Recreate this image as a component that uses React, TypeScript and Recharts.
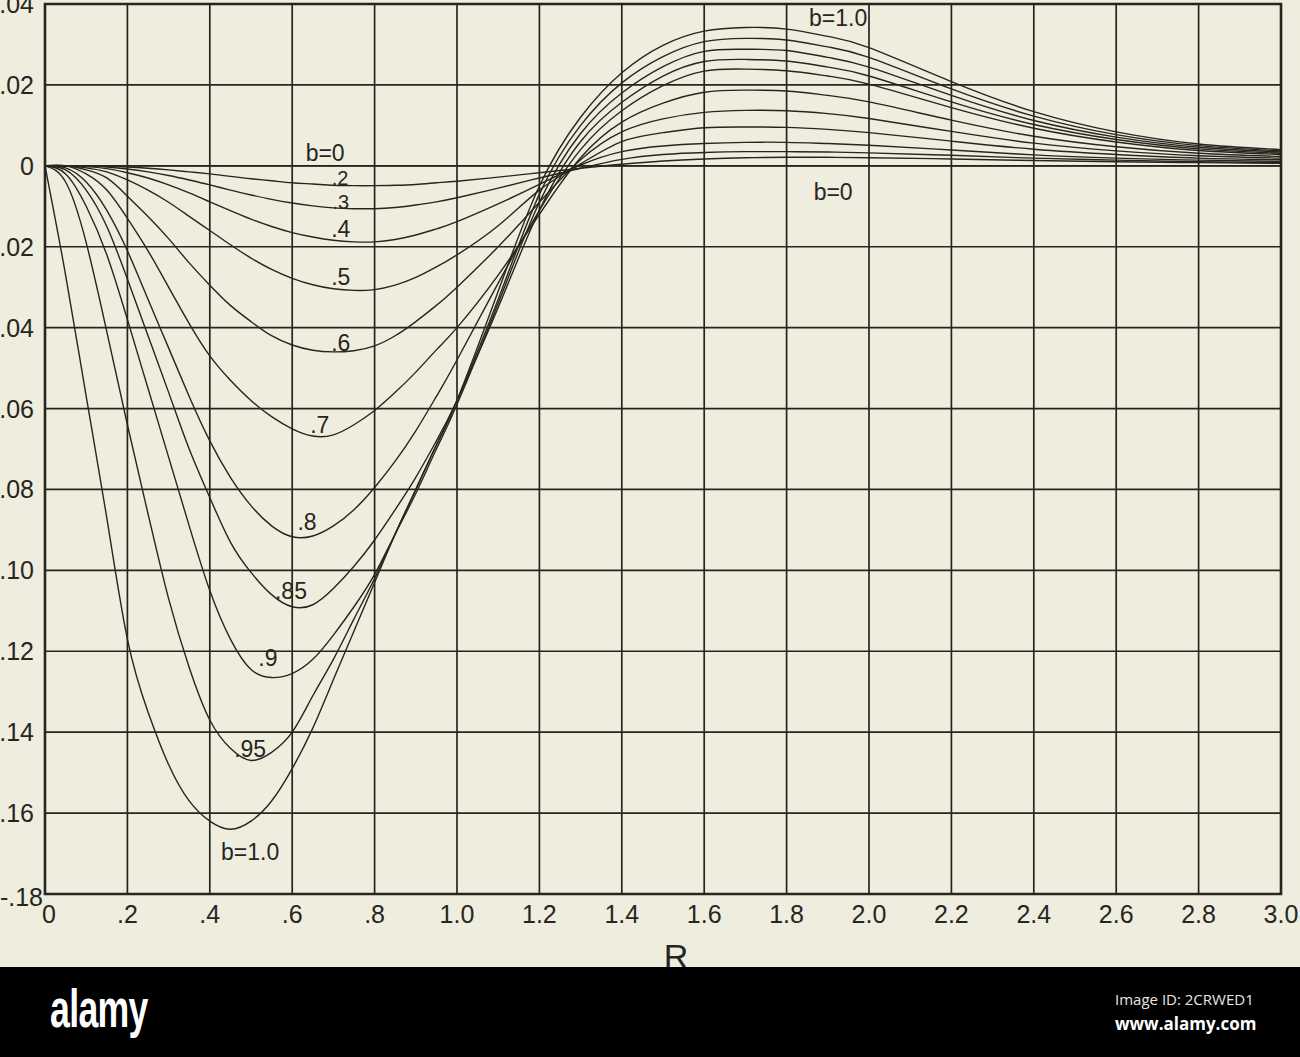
import React from "react";
import { LineChart, Line, XAxis, YAxis, CartesianGrid, ReferenceArea, ReferenceDot } from "recharts";

const rValues = [
  0, 0.05, 0.1, 0.15, 0.2, 0.25, 0.3, 0.35, 0.4, 0.45, 0.5, 0.55, 0.6, 0.65, 0.7, 0.75, 0.8, 0.85, 0.9, 0.95, 1.0,
  1.1, 1.2, 1.3, 1.4, 1.5, 1.6, 1.7, 1.8, 1.9, 2.0, 2.2, 2.4, 2.6, 2.8, 3.0,
];

const b100 = [0, -0.027, -0.057, -0.087, -0.117, -0.135, -0.148, -0.157, -0.162, -0.164, -0.162, -0.157, -0.149, -0.139, -0.127, -0.115, -0.103, -0.091, -0.08, -0.069, -0.058, -0.031, -0.005, 0.012, 0.023, 0.0298, 0.0333, 0.0342, 0.0338, 0.032, 0.0292, 0.0208, 0.0134, 0.0084, 0.0054, 0.004];
const b095 = [0, -0.004, -0.019, -0.041, -0.064, -0.086, -0.107, -0.124, -0.137, -0.144, -0.147, -0.145, -0.14, -0.131, -0.122, -0.112, -0.102, -0.091, -0.08, -0.069, -0.058, -0.033, -0.007, 0.01, 0.0205, 0.027, 0.0307, 0.0315, 0.0311, 0.0294, 0.0268, 0.019, 0.0123, 0.0077, 0.005, 0.0037];
const b090 = [0, -0.002, -0.01, -0.022, -0.038, -0.055, -0.072, -0.089, -0.105, -0.117, -0.1245, -0.1265, -0.1255, -0.122, -0.116, -0.109, -0.101, -0.091, -0.081, -0.07, -0.059, -0.034, -0.009, 0.008, 0.018, 0.0245, 0.0283, 0.0288, 0.0285, 0.0268, 0.0244, 0.0174, 0.0112, 0.0071, 0.0046, 0.0034];
const b085 = [0, -0.001, -0.006, -0.015, -0.028, -0.042, -0.056, -0.07, -0.082, -0.093, -0.1005, -0.106, -0.109, -0.1085, -0.1045, -0.099, -0.0925, -0.085, -0.077, -0.068, -0.058, -0.035, -0.011, 0.006, 0.0157, 0.0222, 0.0258, 0.0263, 0.0259, 0.0244, 0.0222, 0.0158, 0.0102, 0.0065, 0.0042, 0.0031];
const b080 = [0, -0.0005, -0.004, -0.011, -0.021, -0.033, -0.045, -0.057, -0.068, -0.077, -0.084, -0.089, -0.0917, -0.0915, -0.089, -0.085, -0.0795, -0.073, -0.0655, -0.057, -0.048, -0.029, -0.011, 0.004, 0.0136, 0.0198, 0.0234, 0.0239, 0.0235, 0.0222, 0.0202, 0.0144, 0.0093, 0.0059, 0.0038, 0.0028];
const b070 = [0, 0, -0.002, -0.006, -0.013, -0.021, -0.03, -0.039, -0.047, -0.053, -0.058, -0.062, -0.065, -0.0668, -0.0665, -0.064, -0.0605, -0.056, -0.051, -0.0455, -0.04, -0.027, -0.012, 0.002, 0.0108, 0.0155, 0.0182, 0.0187, 0.0185, 0.0174, 0.0158, 0.0113, 0.0073, 0.0047, 0.0031, 0.0023];
const b060 = [0, 0, -0.001, -0.003, -0.0075, -0.0125, -0.018, -0.024, -0.0295, -0.0345, -0.0385, -0.042, -0.0443, -0.0456, -0.046, -0.0457, -0.0445, -0.042, -0.0385, -0.0345, -0.03, -0.02, -0.009, 0.0015, 0.0084, 0.0116, 0.0132, 0.0137, 0.0136, 0.0129, 0.0117, 0.0085, 0.0056, 0.0037, 0.0025, 0.0019];
const b050 = [0, 0, -0.0005, -0.0015, -0.0035, -0.006, -0.009, -0.0125, -0.016, -0.0195, -0.0228, -0.0256, -0.0278, -0.0294, -0.0304, -0.0308, -0.0306, -0.0295, -0.0276, -0.025, -0.022, -0.0148, -0.006, 0.0005, 0.006, 0.0082, 0.0094, 0.0096, 0.0095, 0.009, 0.0082, 0.0061, 0.0041, 0.0028, 0.0019, 0.0015];
const b040 = [0, 0, -0.0002, -0.0007, -0.0017, -0.003, -0.0047, -0.0067, -0.0089, -0.0111, -0.0132, -0.015, -0.0165, -0.0176, -0.0184, -0.0188, -0.0188, -0.0182, -0.0171, -0.0156, -0.0138, -0.0094, -0.0046, 0.0002, 0.0035, 0.0049, 0.0055, 0.0058, 0.0058, 0.0055, 0.0051, 0.0039, 0.0027, 0.0019, 0.0014, 0.0011];
const b030 = [0, 0, 0, -0.0003, -0.0008, -0.0015, -0.0024, -0.0035, -0.0047, -0.006, -0.0072, -0.0083, -0.0092, -0.0099, -0.0104, -0.0106, -0.0106, -0.0103, -0.0097, -0.0089, -0.0079, -0.0055, -0.003, -0.0006, 0.0016, 0.0028, 0.0033, 0.0035, 0.0035, 0.0034, 0.0032, 0.0026, 0.0019, 0.0014, 0.001, 0.0008];
const b020 = [0, 0, 0, -0.0001, -0.0003, -0.0006, -0.001, -0.0015, -0.002, -0.0026, -0.0032, -0.0037, -0.0042, -0.0045, -0.0048, -0.0049, -0.0049, -0.0048, -0.0046, -0.0042, -0.0038, -0.0028, -0.0017, -0.0006, 0.0004, 0.0012, 0.0017, 0.002, 0.0021, 0.0021, 0.002, 0.0017, 0.0013, 0.001, 0.0008, 0.0006];
const b000 = [0, 0, 0, 0, 0, 0, 0, 0, 0, 0, 0, 0, 0, 0, 0, 0, 0, 0, 0, 0, 0, 0, 0, 0, 0, 0, 0, 0, 0, 0, 0, 0, 0, 0, 0, 0];

const seriesList = [
  { key: "b100", values: b100 },
  { key: "b095", values: b095 },
  { key: "b090", values: b090 },
  { key: "b085", values: b085 },
  { key: "b080", values: b080 },
  { key: "b070", values: b070 },
  { key: "b060", values: b060 },
  { key: "b050", values: b050 },
  { key: "b040", values: b040 },
  { key: "b030", values: b030 },
  { key: "b020", values: b020 },
  { key: "b000", values: b000 },
];

const xTicks = [0, 0.2, 0.4, 0.6, 0.8, 1.0, 1.2, 1.4, 1.6, 1.8, 2.0, 2.2, 2.4, 2.6, 2.8, 3.0];
const xTickLabels = ["0", ".2", ".4", ".6", ".8", "1.0", "1.2", "1.4", "1.6", "1.8", "2.0", "2.2", "2.4", "2.6", "2.8", "3.0"];
const yTicks = [0.04, 0.02, 0, -0.02, -0.04, -0.06, -0.08, -0.1, -0.12, -0.14, -0.16, -0.18];
const yTickLabels = [".04", ".02", "0", "-.02", "-.04", "-.06", "-.08", "-.10", "-.12", "-.14", "-.16", "-.18"];

// curve labels, placed at (R, value)
const curveLabels = [
  { text: "b=0", r: 0.68, v: 0.0032, size: 23 },
  { text: ".2", r: 0.716, v: -0.003, size: 20 },
  { text: ".3", r: 0.718, v: -0.009, size: 20 },
  { text: ".4", r: 0.718, v: -0.0156, size: 23 },
  { text: ".5", r: 0.718, v: -0.0274, size: 23 },
  { text: ".6", r: 0.718, v: -0.0437, size: 23 },
  { text: ".7", r: 0.667, v: -0.064, size: 23 },
  { text: ".8", r: 0.636, v: -0.0881, size: 23 },
  { text: ".85", r: 0.597, v: -0.105, size: 23 },
  { text: ".9", r: 0.541, v: -0.1215, size: 23 },
  { text: ".95", r: 0.498, v: -0.144, size: 23 },
  { text: "b=1.0", r: 0.498, v: -0.1696, size: 23 },
  { text: "b=1.0", r: 1.925, v: 0.0365, size: 23 },
  { text: "b=0", r: 1.913, v: -0.0064, size: 23 },
];

const rows = rValues.map((r, i) => {
  const row: any = { R: r };
  seriesList.forEach((s) => {
    row[s.key] = s.values[i];
  });
  return row;
});

const INK = "#26261f";
const FONT = "'Liberation Sans', Arial, sans-serif";

const renderXTick = (props: any) => {
  const { x, payload } = props;
  const i = xTicks.findIndex((t) => Math.abs(t - payload.value) < 1e-9);
  return (
    <text x={x + (i === 0 ? 4 : 0)} y={943} textAnchor="middle" fill={INK} fontSize={25} fontFamily={FONT}>
      {xTickLabels[i]}
    </text>
  );
};

const renderYTick = (props: any) => {
  const { y, payload } = props;
  const i = yTicks.findIndex((t) => Math.abs(t - payload.value) < 1e-9);
  const last = i === yTicks.length - 1;
  return (
    <text x={last ? 83 : 74} y={y + (last ? 3 : 0)} dy="0.36em" textAnchor="end" fill={INK} fontSize={25} fontFamily={FONT}>
      {yTickLabels[i]}
    </text>
  );
};

export default function App() {
  return (
    <div style={{ position: "absolute", left: 0, top: 0, width: 1300, height: 1057, overflow: "hidden", background: "#efedde" }}>
      <div style={{ position: "absolute", left: -40, top: -20 }}>
        <LineChart width={1360} height={1000} data={rows} margin={{ top: 24, right: 39, left: 0, bottom: 0 }}>
          <CartesianGrid stroke={INK} strokeWidth={1.7} />
          <XAxis
            dataKey="R"
            type="number"
            domain={[0, 3]}
            ticks={xTicks}
            interval={0}
            tick={renderXTick}
            tickLine={false}
            axisLine={false}
            height={86}
            allowDataOverflow
            label={{ value: "R", position: "insideBottom", offset: 12, dx: 13, fontSize: 34, fill: INK, fontFamily: FONT }}
          />
          <YAxis
            type="number"
            domain={[-0.18, 0.04]}
            ticks={yTicks}
            interval={0}
            tick={renderYTick}
            tickLine={false}
            axisLine={false}
            width={85}
            allowDataOverflow
          />
          <ReferenceArea x1={0} x2={3} y1={-0.18} y2={0.04} fill="none" fillOpacity={0} stroke={INK} strokeWidth={2.6} ifOverflow="visible" />
          {seriesList.map((s) => (
            <Line
              key={s.key}
              dataKey={s.key}
              type="natural"
              stroke={INK}
              strokeWidth={1.4}
              dot={false}
              activeDot={false}
              isAnimationActive={false}
            />
          ))}
          {curveLabels.map((l, i) => (
            <ReferenceDot
              key={i}
              x={l.r}
              y={l.v}
              r={1}
              fill="none"
              stroke="none"
              ifOverflow="visible"
              label={{ value: l.text, position: "center", fill: INK, fontSize: l.size, fontFamily: FONT }}
            />
          ))}
        </LineChart>
      </div>
      <div style={{ position: "absolute", left: 0, top: 967, width: 1300, height: 90, background: "#000" }}>
        <div
          style={{
            position: "absolute",
            left: 50,
            top: 14,
            color: "#fff",
            fontFamily: FONT,
            fontWeight: 700,
            fontSize: 54,
            lineHeight: "54px",
            transform: "scaleX(0.66)",
            transformOrigin: "left top",
            letterSpacing: -1,
          }}
        >
          alamy
        </div>
        <div style={{ position: "absolute", left: 1115, top: 25, color: "#e6e6e6", fontFamily: "'Open Sans', sans-serif", fontSize: 15, lineHeight: "15px" }}>
          Image ID: 2CRWED1
        </div>
        <div style={{ position: "absolute", left: 1115, top: 48, color: "#fff", fontFamily: "'Open Sans', sans-serif", fontWeight: 700, fontSize: 17, lineHeight: "17px" }}>
          www.alamy.com
        </div>
      </div>
    </div>
  );
}
